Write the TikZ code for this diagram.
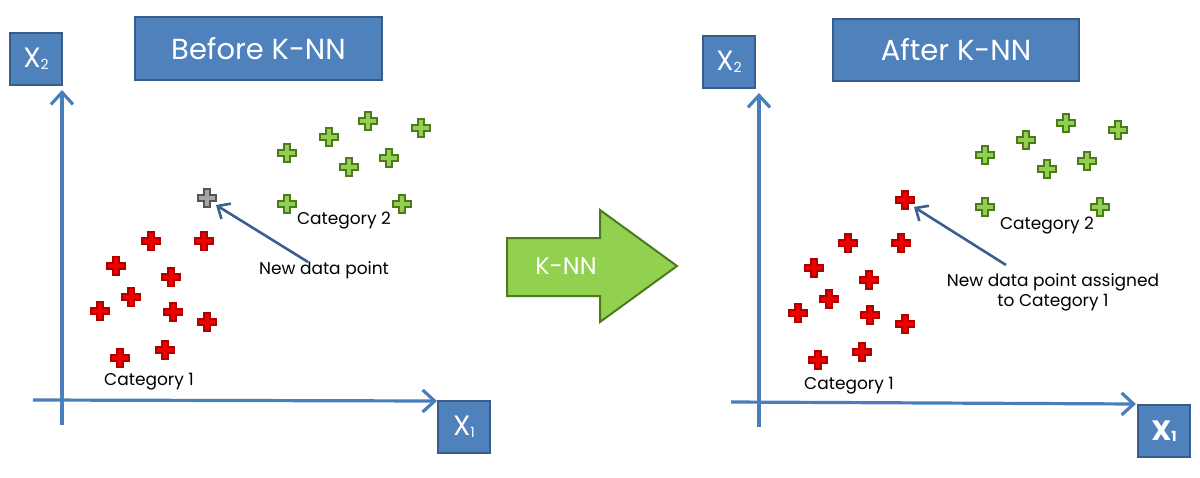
\documentclass[tikz,border=0pt]{standalone}
\usepackage{fontspec}
\setmainfont{Poppins}
\usetikzlibrary{arrows.meta}
\definecolor{boxblue}{HTML}{4F81BD}
\definecolor{boxedge}{HTML}{385D8A}
\definecolor{axisblue}{HTML}{4A7EBB}
\definecolor{redf}{HTML}{EE0000}
\definecolor{rede}{HTML}{B00000}
\definecolor{greenf}{HTML}{92D050}
\definecolor{greene}{HTML}{4E7A1E}
\definecolor{grayf}{HTML}{A6A6A6}
\definecolor{graye}{HTML}{555555}
\definecolor{arrowblue}{HTML}{3B5F8F}
\tikzset{
  bluebox/.style={draw=boxedge,fill=boxblue,line width=1.2pt,text=white,inner sep=0pt},
  xbox/.style={bluebox,minimum width=26pt,minimum height=26pt,font=\fontsize{14}{14}\selectfont},
  axis/.style={draw=axisblue,line width=1.6pt,-{Straight Barb[length=6pt,width=11pt,line width=1.6pt]}},
  pointer/.style={draw=arrowblue,line width=1.3pt,-{Straight Barb[length=5pt,width=9pt,line width=1.3pt]}},
  lbl/.style={font=\fontsize{8.5}{10}\selectfont,align=center,inner sep=0pt},
  pics/cross/.style={code={\path[draw=#1e,fill=#1f,line width=0.7pt]
    (-3,-9)--(3,-9)--(3,-3)--(9,-3)--(9,3)--(3,3)--(3,9)--(-3,9)--(-3,3)--(-9,3)--(-9,-3)--(-3,-3)--cycle;}}
}
\newcommand{\subx}[1]{\raisebox{-0.1ex}{\fontsize{7}{7}\selectfont #1}}
\begin{document}
\begin{tikzpicture}[x=0.5pt,y=-0.5pt]
\useasboundingbox (0,0) rectangle (1200,477);
% ---------- left panel ----------
\node[xbox] (ly) at (36,59) {X\subx{2}};
\node[bluebox,minimum width=123.5pt,minimum height=31.5pt,font=\fontsize{14.5}{15}\selectfont] (lt) at (258.5,48.5) {Before K-NN};
\node[xbox] (lx) at (464,427) {X\subx{1}};
\coordinate (lyb) at (62,425); \coordinate (lyt) at (62,90);
\coordinate (lxl) at (33,400); \coordinate (lxr) at (437,401);
\draw[axis] (lyb) -- (lyt);
\draw[axis] (lxl) -- (lxr);
\foreach \p in {(151,241),(204,241),(116,266),(171,277),(131,297),(100,311),(173,312),(207,322),(120,358),(165,350)}
  \pic at \p {cross=red};
\foreach \p in {(287,153),(329,137),(368,121),(421,128),(349,167),(389,158),(287,204),(402,204)}
  \pic at \p {cross=green};
\pic at (207,198) {cross=gray};
\coordinate (lnew) at (216,205);
\node[lbl] (lc2) at (344,221) {Category 2};
\node[lbl] (lnd) at (324,270) {New data point};
\node[lbl] (lc1) at (149,382) {Category 1};
\coordinate (lfrom) at (308,262);
\draw[pointer] (lfrom) -- (lnew);
% ---------- middle arrow ----------
\draw[draw=greene,fill=greenf,line width=1pt] (507,238) -- (600,238) -- (600,210) -- (677,266) -- (600,322) -- (600,296) -- (507,296) -- cycle;
\node[text=white,font=\fontsize{12}{12}\selectfont] (knn) at (566,266) {K-NN};
% ---------- right panel ----------
\node[xbox] (ry) at (729,62) {X\subx{2}};
\node[bluebox,minimum width=123pt,minimum height=31pt,font=\fontsize{14.5}{15}\selectfont] (rt) at (956,50) {After K-NN};
\node[xbox,font=\bfseries\fontsize{14}{14}\selectfont] (rx) at (1164,431) {X\subx{1}};
\coordinate (ryb) at (759,427); \coordinate (ryt) at (759,93);
\coordinate (rxl) at (731,402); \coordinate (rxr) at (1136,404);
\draw[axis] (ryb) -- (ryt);
\draw[axis] (rxl) -- (rxr);
\foreach \p in {(905,200),(848,243),(901,243),(814,268),(869,280),(829,299),(798,313),(870,315),(905,324),(818,360),(862,352)}
  \pic at \p {cross=red};
\foreach \p in {(985,155),(1026,140),(1066,123),(1118,130),(1047,169),(1087,161),(985,207),(1100,207)}
  \pic at \p {cross=green};
\coordinate (rnew) at (914,207);
\node[lbl] (rc2) at (1047,226) {Category 2};
\node[lbl] (rnd) at (1053,292) {New data point assigned\\to Category 1};
\node[lbl] (rc1) at (849,386) {Category 1};
\coordinate (rfrom) at (1006,265);
\draw[pointer] (rfrom) -- (rnew);
\end{tikzpicture}
\end{document}
